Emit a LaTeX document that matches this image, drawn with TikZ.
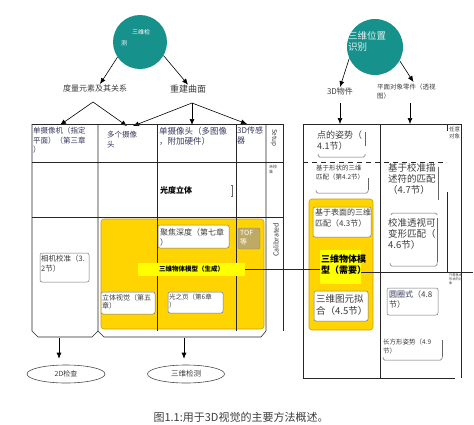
\documentclass[tikz,border=0pt]{standalone}
\usepackage{fontspec}
\setmainfont{Noto Sans CJK SC}
\usetikzlibrary{arrows.meta,shapes.geometric}
\definecolor{teal1}{RGB}{22,145,140}
\definecolor{gold1}{RGB}{255,212,0}
\definecolor{goldb}{RGB}{205,160,0}
\definecolor{ylab}{RGB}{255,255,0}
\definecolor{tofc}{RGB}{190,170,100}
\definecolor{tgray}{RGB}{60,60,60}
\definecolor{hdrc}{RGB}{55,55,95}
\newcommand\fz[2]{\fontsize{#1}{#2}\selectfont}
\begin{document}
\begin{tikzpicture}[x=1pt,y=-1pt,
  arr/.style={-{Latex[length=6pt,width=5pt]},line width=0.6pt},
  tl/.style={line width=0.6pt,draw=black!85},
  txt/.style={inner sep=0pt,anchor=north west,align=left,text=tgray},
  hdr/.style={txt,text=hdrc,font=\fz{7.5}{9.5}},
  wbox/.style={draw=black!55,fill=white,rounded corners=2pt,line width=0.5pt},
  brk/.style={draw=black!60,line width=0.5pt,rounded corners=1.5pt},
  ybox/.style={draw=goldb,fill=gold1,rounded corners=3pt,line width=0.6pt},
]
\useasboundingbox (0,0) rectangle (474,424);

% ---------- circles ----------
\node[circle,fill=teal1,minimum size=54pt,inner sep=0pt] (c1) at (140,42) {};
\node[txt,text=white,font=\fz{6}{8}] (c1a) at (132,29) {三维检};
\node[txt,text=white,font=\fz{6}{8}] (c1b) at (121,40) {测};
\node[circle,fill=teal1,minimum size=56pt,inner sep=0pt] (c2) at (375,47) {};
\node[txt,text=white!88!teal1,font=\fz{9.5}{11.5}] (c2a) at (348,31) {三维位置\\识别};

% ---------- level-2 labels ----------
\node[text=tgray,font=\fz{8}{10},inner sep=0pt] (m1) at (95,88) {度量元素及其关系};
\node[text=tgray,font=\fz{9}{11},inner sep=0pt] (m2) at (188,89) {重建曲面};
\node[text=tgray,font=\fz{8}{10},inner sep=0pt] (l3d) at (340,91) {3D物件};
\node[txt,font=\fz{6.5}{8.5}] (lpl) at (377,84) {平面对象零件（透视\\图）};

\draw[arr] (c1.214) -- ([xshift=5pt]m1.north);
\draw[arr] (c1.330) -- (m2.north);
\draw[arr] (c2.204) -- (l3d.north);
\draw[arr] (c2.331) -- ([xshift=7pt,yshift=2pt]lpl.north);

\coordinate (m1s) at (93,102);
\coordinate (m2s) at (192,103);
\coordinate (t1) at (60,125);
\coordinate (t2) at (127,126);
\coordinate (t3) at (133,126);
\coordinate (t4) at (192,125);
\coordinate (t5) at (247,124);
\draw[arr] (m1s) -- (t1);
\draw[arr] (m1s) -- (t2);
\draw[arr] (m2s) -- (t3);
\draw[arr] (m2s) -- (t4);
\draw[arr] (m2s) -- (t5);

\coordinate (rt) at (303,124);
\draw[arr] ([yshift=-8pt]l3d.south) -- (l3d.south |- rt);
\draw[arr] (410,103) -- (410,124);

% ---------- left table ----------
\draw[ybox] (101,219) rectangle (264,329);
\draw[tl] (32,124) -- (283,124);
\draw[tl] (32,124) -- (32,331) -- (38,337) -- (92,337) -- (98,331);
\draw[tl] (98,124) -- (98,331) -- (104,337) -- (261,337) -- (266,331) -- (266,124);
\draw[tl] (283,124) -- (283,331);
\draw[tl] (157,124) -- (157,331);
\draw[tl] (236,124) -- (236,331);
\draw[tl] (32,162) -- (283,162);
\draw[tl] (32,217) -- (283,217);

\node[hdr] (h1) at (33,127) {单摄像机（指定\\平面）（第三章\\）};
\node[hdr] (h2) at (107,131) {多个摄像\\头};
\node[hdr,font=\fz{8.5}{10.5}] (h3) at (159,127) {单摄像头（多图像\\，附加硬件）};
\node[hdr,font=\fz{8}{10}] (h4) at (237,127) {3D传感\\器};
\node[text=tgray,font=\fz{6.5}{8},rotate=-90,inner sep=0pt] (su) at (274,138) {Setup};
\node[txt,font=\fz{4}{5}] (unc) at (269,165) {未校\\准};
\node[text=tgray,font=\fz{7}{8},rotate=90,inner sep=0pt] (cal) at (276,240) {Calibrated};

\node[txt,text=black,font=\bfseries\fz{8}{10}] (pst) at (160,186) {光度立体};
\draw[black!60,line width=0.5pt] (231,185) -- (232,185) -- (232,196) -- (231,196);

\draw[wbox] (40,253) rectangle (89,282);
\node[txt,font=\fz{7.5}{9.5}] (cc) at (41,255) {相机校准（3.\\2节）};

\draw[wbox] (158,225) rectangle (229,248);
\node[txt,font=\fz{8}{10}] (dff) at (160,228) {聚焦深度（第七章\\）};
\draw[draw=tofc!80!black,fill=tofc,rounded corners=2pt] (238,228) rectangle (260,249);
\node[txt,text=white,font=\fz{7}{9}] (tof) at (240,230) {TOF\\等};

\draw[wbox] (101,292) rectangle (155,314);
\node[txt,font=\fz{7}{8.5}] (stv) at (102,294) {立体视觉（第五\\章）};
\draw[wbox] (168,292) rectangle (223,313);
\node[txt,font=\fz{6.5}{8}] (lsp) at (169,294) {光之页（第6章\\）};

\node[fill=ylab,inner sep=0pt,minimum width=107pt,minimum height=13pt,font=\bfseries\fz{6.5}{8},text=black] (gen) at (191.5,269) {三维物体模型（生成）};

% ---------- right table ----------
\draw[ybox] (309,199) rectangle (373,330);
\draw[tl] (303,124) -- (461,124);
\draw[tl] (303,124) -- (303,378) -- (455,378);
\draw[tl] (461,124) -- (461,378);
\draw[tl] (380,124) -- (380,378);
\draw[tl] (447,124) -- (447,131);
\draw[tl,dashed,dash pattern=on 5pt off 4pt] (303,162) -- (447,162);
\draw[tl] (447,192) -- (447,272);

\node[txt,font=\fz{9}{11}] (p41) at (317,131) {点的姿势（\\4.1节）};
\draw[brk] (365,132) -- (365,146);
\draw[brk] (318,154) -- (318,157) -- (365,157) -- (365,154);
\node[txt,font=\fz{6.5}{9}] (p42) at (316,165) {基于形状的三维\\匹配（第4.2节）};
\draw[brk] (368,178) -- (368,190);
\draw[brk] (316,190) -- (316,193) -- (368,193) -- (368,190);

\draw[wbox] (313,207) rectangle (371,237);
\node[txt,font=\fz{8}{10.5}] (p43) at (315,209) {基于表面的三维\\匹配（4.3节）};

\node[fill=ylab,inner sep=0pt,minimum width=41pt,minimum height=34pt] (req) at (340.5,267) {};
\node[txt,text=black,font=\bfseries\fz{9}{11}] (reqt) at (321,255) {三维物体模\\型（需要）};

\draw[wbox] (314,291) rectangle (368,321);
\node[txt,font=\fz{9.5}{12}] (p45) at (316,294) {三维图元拟\\合（4.5节）};

\node[txt,font=\fz{9.5}{11.2}] (p47) at (388,163) {基于校准描\\述符的匹配\\（4.7节）};
\draw[brk] (438,167) -- (438,200);
\draw[brk] (391,215) -- (391,213) -- (437,213) -- (437,215);
\node[txt,font=\fz{9.5}{11.2}] (p46) at (388,218) {校准透视可\\变形匹配（\\4.6节）};
\draw[brk] (437,218) -- (437,262);
\draw[brk] (390,263) -- (390,266) -- (437,266) -- (437,262);

\draw[wbox] (387,288) rectangle (438,315);
\node[txt,font=\fz{8}{10}] (p48) at (389,290) {\textcolor{hdrc}{圆圈式}（4.8\\节）};

\node[txt,font=\fz{6.5}{8.5}] (p49) at (383,339) {长方形姿势（4.9\\节）};
\draw[brk] (442,340) -- (442,357);
\draw[brk] (383,357) -- (383,360) -- (442,360) -- (442,357);

\node[txt,font=\fz{5.5}{7}] (any) at (449,127) {任意\\对象};
\node[txt,font=\fz{3.2}{4}] (bas) at (449,274) {只需基本\\形状的对\\象};

% connectors between the two model labels
\draw[tl] (gen.east) -- (gen.east -| req.west);
\draw[tl] (req.east |- 0,272) -- (473,272);

% ---------- bottom ----------
\coordinate (s1) at (59,338);
\coordinate (s2) at (184,338);
\node[ellipse,draw=black!70,line width=0.6pt,minimum width=78pt,minimum height=18pt,inner sep=0pt,font=\fz{7}{9},text=tgray] (e1) at (66,374) {2D检查};
\node[ellipse,draw=black!70,line width=0.6pt,minimum width=77pt,minimum height=18pt,inner sep=0pt,font=\fz{7.5}{9},text=tgray] (e2) at (186,374) {三维检测};
\draw[arr,shorten >=6pt] (s1) -- (s1 |- e1.north);
\draw[arr,shorten >=6pt] (s2) -- (s2 |- e2.north);

\node[text=tgray,font=\fz{11}{13},inner sep=0pt] (cap) at (241,417) {图1.1:用于3D视觉的主要方法概述。};
\end{tikzpicture}
\end{document}
